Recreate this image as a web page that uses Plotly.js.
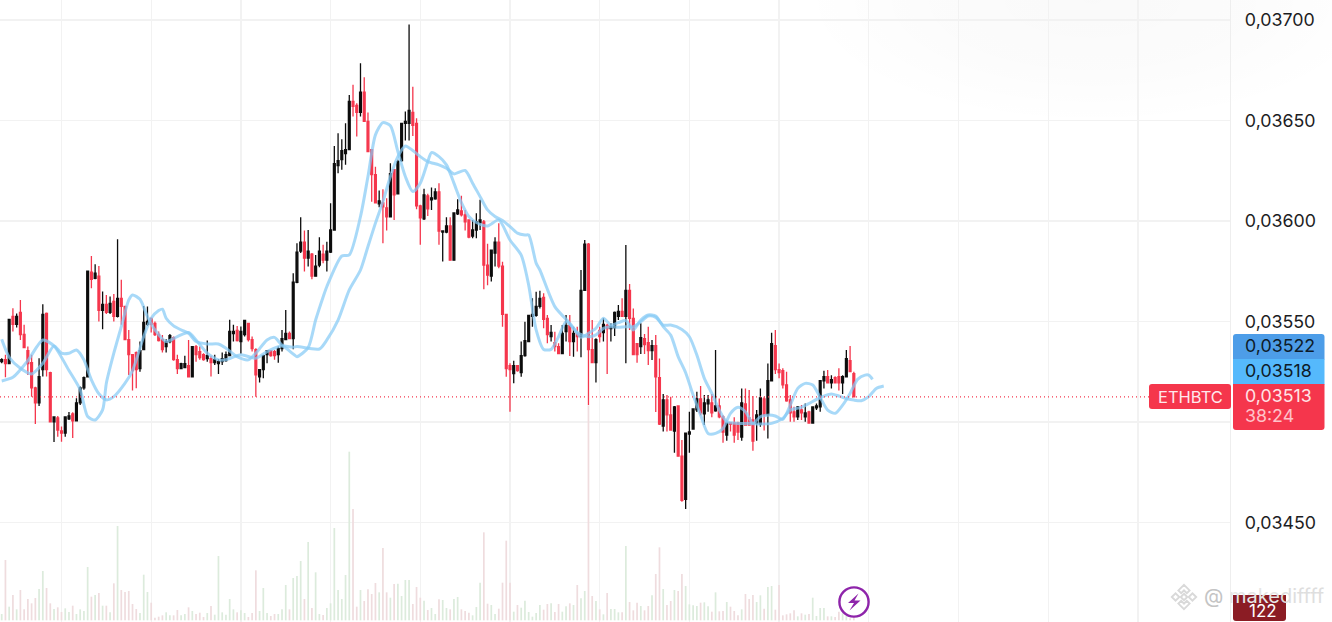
<!DOCTYPE html>
<html><head><meta charset="utf-8">
<script src="https://cdn.plot.ly/plotly-3.0.1.min.js"></script>
<style>html,body{margin:0;padding:0;background:#fff;overflow:hidden}#c{width:1332px;height:622px}</style>
</head><body><div id="c"></div>
<script>
// Prices in units of 0.00001 BTC
const open=[3530,3531,3529,3552.5,3548.5,3554.5,3543.5,3535.5,3529.5,3517,
3509.5,3526,3554,3524.5,3500,3502,3495.5,3494.5,3501.5,3504,
3500.5,3509.5,3517,3522.5,3574.5,3571.5,3572.5,3555.5,3558.5,3554.5,
3560,3552.5,3561.5,3557.5,3541,3533.5,3534.5,3526.5,3536,3548.5,
3551.5,3549,3543.5,3541,3537.5,3540,3542,3531,3526.5,3527,
3528,3522.5,3537.5,3535,3533.5,3531.5,3531.5,3529.5,3529,3530,
3530.5,3533,3544,3545.5,3540,3543.5,3549,3541,3536,3522.5,
3526,3533.5,3535.5,3535,3533.5,3536.5,3541,3544,3541.5,3569.5,
3585,3589.5,3581.5,3583.5,3572.5,3578,3583.5,3580.5,3584.5,3595.5,
3627.5,3630.5,3633.5,3635.5,3659.5,3657.5,3654,3664,3649.5,3635.5,
3623,3608.5,3609,3606.5,3602,3625.5,3613.5,3630,3648.5,3648.5,
3654,3648.5,3607.5,3601,3612.5,3610.5,3611,3614.5,3594.5,3594.5,
3597.5,3580.5,3603.5,3605,3603,3600.5,3592.5,3595.5,3599,3599.5,
3578,3572.5,3584,3589.5,3577.5,3553.5,3528,3524,3528,3524.5,
3533,3540,3552.5,3553,3557.5,3562,3551.5,3542.5,3539.5,3537.5,
3534,3545,3548,3540,3544,3542.5,3565.5,3588.5,3536,3529.5,
3545.5,3544.5,3548,3546.5,3547,3552.5,3555,3552.5,3565.5,3551.5,
3539,3537.5,3541.5,3539.5,3535.5,3538,3522,3498,3511,3503.5,
3495.5,3508,3483,3461.5,3494,3496.5,3506,3511.5,3504,3509,
3509.5,3505.5,3508,3502.5,3493.5,3499.5,3499.5,3499.5,3492.5,3509,
3502,3501,3499.5,3499,3511.5,3503.5,3520.5,3538,3526,3525.5,
3518.5,3511,3505,3502.5,3506,3502.5,3505,3499.5,3507,3507.5,
3520.5,3522.5,3519.5,3522,3522.5,3519.5,3522.5,3530.5,3524];
const close=[3531,3529,3551,3548.5,3552.5,3543.5,3537,3529,3517,3509.5,
3522.5,3553.5,3526,3500,3502.5,3496,3494.5,3502.5,3503,3500.5,
3509.5,3517,3522,3575,3571,3574,3555.5,3558.5,3554.5,3559,
3552.5,3561.5,3557.5,3541,3533.5,3525.5,3526,3535.5,3549.5,3550,
3548.5,3543.5,3540.5,3536,3540,3543,3531,3526.5,3529,3529,
3522.5,3537.5,3533.5,3532,3531,3533,3529.5,3531,3530,3531.5,
3533.5,3545,3545,3540.5,3545,3550.5,3541,3536.5,3523.5,3526,
3533,3535.5,3533,3533,3536.5,3541.5,3544,3541.5,3569.5,3584.5,
3589.5,3581.5,3585,3572.5,3577.5,3585,3580.5,3585,3595.5,3628.5,
3630,3635,3635.5,3659.5,3657,3654,3664,3649.5,3634.5,3623,
3609,3610,3607,3602,3623.5,3613,3629.5,3648.5,3649.5,3655,
3647.5,3607.5,3601.5,3613,3606,3611.5,3614.5,3595,3595,3597.5,
3580.5,3604,3605.5,3603,3599.5,3592,3595.5,3599.5,3600.5,3578,
3573,3585.5,3589.5,3577.5,3553.5,3526.5,3526,3528,3525.5,3533,
3540.5,3553,3553.5,3557.5,3561.5,3551,3543.5,3544.5,3537.5,3534,
3544,3548,3540,3544,3542.5,3565.5,3588.5,3536,3529.5,3541,
3542.5,3548.5,3546.5,3547.5,3554.5,3555,3552.5,3565.5,3551.5,3533.5,
3533.5,3542,3538.5,3535.5,3538,3522.5,3499,3511,3503.5,3496,
3507.5,3483,3461,3494.5,3495,3506.5,3511.5,3504.5,3509.5,3511,
3504.5,3508,3502.5,3495,3499.5,3499,3493.5,3495,3509.5,3498.5,
3498.5,3490.5,3503.5,3512,3503.5,3520.5,3539,3526,3524.5,3518.5,
3510.5,3504.5,3502.5,3507.5,3504.5,3504.5,3499.5,3507.5,3508,3520.5,
3522.5,3519.5,3521,3519.5,3519.5,3522.5,3531.5,3525,3512.5];
const high=[3531.7,3533.4,3551,3556.6,3554,3560.7,3548.3,3537.5,3533.4,3517.5,
3531.7,3558.5,3554.4,3525,3502.7,3503,3497.7,3502.7,3505,3504.8,
3511.8,3517.6,3522.6,3575,3582.6,3578.5,3577.6,3564.9,3563.2,3562.4,
3563.7,3590.9,3570.7,3557.7,3545.8,3533.5,3535,3540,3557.7,3557.4,
3552,3550,3545,3543.3,3541.1,3543.8,3542.5,3533.4,3529.5,3532.9,
3540.8,3537.5,3538.3,3537.5,3534.2,3540.5,3532.9,3533.4,3531.2,3534.5,
3535,3550.8,3548.3,3547.8,3547.5,3550.8,3549.4,3542.5,3536.7,3526.2,
3533.4,3535.8,3535.8,3535.8,3537.5,3545.8,3555.7,3545,3574,3588.9,
3601.8,3595.2,3595.5,3584,3583,3591.9,3588.1,3589.7,3608.8,3637.3,
3643.6,3640.6,3648.6,3662.7,3667.7,3658.6,3678.4,3671.5,3653.9,3635.7,
3627,3615.1,3615.8,3611.3,3628.7,3625.5,3630.4,3648.6,3654.4,3697.7,
3666.8,3651.1,3608,3616,3613.5,3616.6,3616.3,3618.8,3595.2,3601.8,
3601.8,3604,3610.8,3612.5,3605.5,3600.8,3600.5,3603.8,3610.5,3600.5,
3588.6,3585.5,3591.9,3598.9,3579.7,3553.5,3529.2,3530.5,3528.4,3540,
3549.9,3553.2,3561.5,3564.8,3565.3,3564,3553.2,3548.2,3544.9,3539.1,
3548.2,3553.2,3553.2,3547.4,3547.4,3575.6,3590.5,3589,3550.7,3541.6,
3547.4,3551.6,3548.8,3549.1,3554.9,3558.2,3561.5,3588,3568.6,3556.5,
3539.1,3549.1,3543.8,3547.4,3540.8,3543.3,3531.6,3513.9,3513.4,3512.6,
3507.9,3508,3491,3494.7,3505.1,3506.8,3515,3517.9,3513.4,3513.4,
3513.9,3535.8,3511.7,3503.4,3500.1,3499.5,3502.3,3500.1,3516.7,3516.7,
3515.9,3512.9,3505.9,3516.7,3512.6,3529.1,3544.4,3545.7,3529.1,3526.7,
3525,3513.4,3507.6,3507.9,3508.4,3509.2,3505.6,3507.6,3509.2,3520.9,
3525.5,3525.8,3523.3,3522.8,3526.7,3523.3,3535.8,3537.8,3525];
const low=[3529.2,3522.2,3528.9,3545,3547,3540.8,3536.7,3523.4,3512.6,3499,
3508,3522.6,3522.6,3499.7,3490,3492.7,3490.2,3492.7,3501,3492,
3500.2,3508.5,3516,3522.3,3566.5,3571,3550,3546.1,3553.7,3553.7,
3550,3552,3548.3,3541,3523.4,3515.6,3516.8,3525,3535.8,3547.8,
3544.5,3542.8,3540,3534.5,3534.5,3539.2,3530.5,3523.9,3526.2,3526.7,
3522.3,3522.3,3530,3530.9,3530.5,3530,3522.6,3528.4,3523.9,3528.4,
3530,3532.9,3540,3540,3533.9,3542.5,3540,3535,3512.6,3519.6,
3521.7,3529.2,3532.5,3530.9,3529.5,3535,3540.8,3541.1,3536.2,3569,
3584,3574.8,3577.3,3571,3572.3,3577,3579,3574.8,3584,3595.2,
3623.7,3625.4,3627.9,3635.5,3651.9,3642,3651.9,3649.4,3634.5,3609.6,
3608.8,3606.8,3588.9,3595.2,3602,3600.5,3613.5,3629.5,3640,3640,
3642.3,3605.8,3588.1,3600.5,3602.5,3605.5,3610.5,3588.1,3579.8,3593.9,
3580.5,3580.5,3603,3602.2,3595.2,3591.4,3591.4,3591.4,3595.5,3566,
3568,3569.9,3577.3,3576.5,3547.4,3522.5,3505.1,3519.2,3525,3522.5,
3532.5,3540,3547.4,3552.4,3556.5,3546.6,3539.1,3540,3535,3533.8,
3533.8,3540,3532.8,3532.5,3535,3532.2,3565.3,3508.5,3529.2,3519.6,
3539.5,3540,3523.9,3540,3542.8,3550.7,3552.4,3529.2,3545.8,3533.3,
3529.5,3533.8,3533.8,3528.4,3530.8,3505,3498.5,3495.2,3495.2,3496,
3484.7,3482.7,3460.3,3456.7,3484.7,3496.3,3505,3503.4,3498.5,3505.1,
3502.3,3505.1,3501.8,3489.7,3490.7,3495.2,3489.7,3491,3490.7,3498.5,
3498.5,3485.7,3490.7,3497.6,3495.7,3491.8,3520.5,3523.8,3521.7,3516.7,
3510.1,3500.1,3500.1,3501,3501,3500.1,3499.3,3499.3,3506,3505.1,
3516.7,3519.2,3516.7,3519.2,3515.6,3513.9,3522.5,3525,3512.2];
const volume=[76,724,164,304,132,364,132,256,204,268,
376,592,388,204,136,156,100,144,100,176,
76,132,112,640,284,304,328,176,176,96,
444,1132,364,340,352,196,136,88,548,340,
212,32,44,60,96,60,60,124,60,76,
156,112,76,92,40,88,172,68,772,96,
68,256,132,96,120,88,40,88,600,112,
388,88,52,76,76,132,424,132,508,532,
712,256,940,148,576,76,64,148,204,1108,
364,256,544,2024,1336,164,364,232,372,316,
448,336,868,336,272,436,440,292,484,484,
196,400,272,236,124,148,76,252,244,148,
132,256,280,132,112,92,60,160,452,1056,
200,184,76,140,452,956,452,104,184,152,
236,100,44,88,184,128,196,204,100,196,
104,168,204,184,424,264,352,2580,292,232,
132,72,328,136,136,96,96,892,220,120,
212,172,120,172,300,556,876,376,184,232,
364,352,556,412,192,180,172,212,216,168,
104,336,108,112,220,164,112,60,132,316,
256,304,220,300,140,400,412,128,424,60,
72,84,120,48,84,68,76,272,52,148,
148,48,48,40,104,84,52,24,122];
// Moving averages: candle index and value, read at sampled candles
const fastIdx=[0,3,7,11,14,18,21,23,25,27,28,30,32,34,35,37,39,41,44,47,50,52,55,58,60,64,68,71,75,78,79,82,84,86,87,91,93,96,98,100,102,104,106,108,110,112,114,115,117,119,121,123,125,127,130,133,136,139,141,143,145,147,149,151,153,155,157,159,161,163,165,167,169,171,173,175,177,179,181,183,185,187,189,191,193,195,197,199,201,203,205,207,209,211,213,215,217,219,221,223,225,227,229,231,232,233];
const fastVal=[3520.4,3522.2,3530.5,3540.8,3537.8,3525.6,3516,3502.7,3501,3506,3519.3,3534.2,3547.4,3560.7,3563.2,3561,3552.4,3545.8,3540,3542.5,3544.5,3540.8,3534.2,3530.9,3530.9,3533.4,3531.7,3535,3537.8,3533.8,3532.5,3537,3550.7,3562.2,3567.4,3582.6,3583.1,3602.2,3622.1,3642.8,3648.9,3647.3,3634.5,3622.1,3614.6,3618.8,3629.5,3634,3632,3627.9,3618.8,3609.1,3602.2,3599.2,3597.5,3600.5,3590.5,3583,3568.1,3545.8,3536.1,3536.1,3542.4,3549.9,3546.6,3542.1,3544.1,3546.6,3551.6,3548.2,3549.4,3550.4,3545.8,3550.7,3553.2,3552.7,3547.4,3543.2,3532.5,3524.5,3513.4,3503.4,3494.3,3494.3,3496.8,3504.3,3507.3,3505.1,3499.3,3502.6,3503.4,3503,3501.3,3508.4,3516.7,3519.2,3518.4,3512.2,3505.9,3504.3,3508.4,3514.2,3521.2,3523.3,3523.3,3521.2];
const slowIdx=[0,2,5,8,11,14,16,18,20,22,24,26,28,30,33,35,38,40,42,43,44,46,48,50,52,55,58,60,63,66,68,71,73,75,78,79,85,87,90,93,96,98,100,102,104,106,108,110,112,114,117,119,121,124,126,128,130,132,134,136,138,140,141,143,144,148,152,154,157,159,161,163,165,167,169,171,173,175,177,179,182,184,186,188,190,192,194,197,200,203,206,209,211,214,216,218,220,222,224,226,228,230,232,234,236];
const slowVal=[3541.1,3532.2,3526.7,3523.9,3529.2,3537.8,3534.2,3534.2,3535.8,3530.9,3520.9,3514,3511,3512.6,3519.3,3525.6,3542.5,3551.6,3555.4,3556.1,3551.6,3547.8,3545.8,3544.1,3540,3538.8,3538.8,3536.7,3532.5,3530.9,3534.2,3540.8,3542.1,3538.3,3537.2,3537.5,3536.3,3540.8,3550.7,3565.7,3575.6,3587.3,3598.9,3609.6,3622.1,3632,3637.3,3635,3632,3629.5,3627.9,3626.2,3623.4,3625.1,3618.8,3612.1,3605.5,3602.2,3600.2,3597.2,3593.9,3593,3593,3579,3575.6,3557.4,3549.1,3544.5,3542.4,3543.3,3546.6,3547.4,3547.1,3547.4,3547.4,3549.9,3552.7,3552,3548.2,3548.2,3546,3542.4,3533.3,3521.7,3514.2,3505.9,3500.1,3499.3,3499.3,3499,3499.3,3501.8,3505.9,3507.3,3509.2,3511.2,3512.9,3513.9,3512.9,3511.7,3510.9,3510.6,3512.6,3516.7,3517.9];
const gridCandles=[16,40,64,88,112,136,160,184,208,232,256,280,304];
const priceTicks=[3450,3500,3550,3600,3650,3700];
const priceTickText=["0,03450","","0,03550","0,03600","0,03650","0,03700"];
const lastPrice=3512.5;
const maLabels=["0,03522","0,03518"];
const lastLabel="0,03513", countdown="38:24", symbol="ETHBTC", volLabel="122", watermark=["@ ","make","diffff"];

const P=v=>v/1e5, idx=open.map((_,i)=>i);
const W=1230,H=622, X=px=>px/W, Y=py=>1-py/H;
function rr(x0,y0,x1,y1,r,fill,rb){ // rounded box in page pixels
  const a=r,b=rb===undefined?r:rb;
  const p=`M${X(x0+a)},${Y(y0)}L${X(x1-a)},${Y(y0)}Q${X(x1)},${Y(y0)} ${X(x1)},${Y(y0+a)}L${X(x1)},${Y(y1-b)}Q${X(x1)},${Y(y1)} ${X(x1-b)},${Y(y1)}L${X(x0+b)},${Y(y1)}Q${X(x0)},${Y(y1)} ${X(x0)},${Y(y1-b)}L${X(x0)},${Y(y0+a)}Q${X(x0)},${Y(y0)} ${X(x0+a)},${Y(y0)}Z`;
  return {type:'path',xref:'paper',yref:'paper',path:p,fillcolor:fill,line:{width:0},layer:'above'};
}
const svg=s=>'data:image/svg+xml;utf8,'+encodeURIComponent(s);
const bolt=svg('<svg xmlns="http://www.w3.org/2000/svg" viewBox="0 0 34 34"><circle cx="17" cy="17" r="14.6" fill="#fff" stroke="#8E24AA" stroke-width="2.4"/><path d="M21.5 8.5 L11 18 L17 18 L12.5 25.5 L23.5 15.5 L17.5 15.5 Z" fill="#8E24AA"/></svg>');
const logo=svg('<svg xmlns="http://www.w3.org/2000/svg" viewBox="0 0 32 32"><g fill="none" stroke="#d9d9d9" stroke-width="2"><path d="M16 3 L22 9 L19 12 L16 9 L13 12 L10 9 Z"/><path d="M16 29 L22 23 L19 20 L16 23 L13 20 L10 23 Z"/><path d="M3 16 L7 12 L11 16 L7 20 Z"/><path d="M29 16 L25 12 L21 16 L25 20 Z"/><path d="M16 12.5 L19.5 16 L16 19.5 L12.5 16 Z"/></g></svg>');
const glow=svg('<svg xmlns="http://www.w3.org/2000/svg" viewBox="0 0 532 120" preserveAspectRatio="none"><defs><radialGradient id="g" cx="0.55" cy="0" r="0.55" gradientTransform="translate(0.55 0) scale(1 1.9) translate(-0.55 0)"><stop offset="0" stop-color="#000" stop-opacity="0.022"/><stop offset="0.55" stop-color="#000" stop-opacity="0.014"/><stop offset="1" stop-color="#000" stop-opacity="0"/></radialGradient></defs><rect width="532" height="120" fill="url(#g)"/></svg>');

const maLine=c=>({color:c,width:3,shape:'spline',smoothing:0.7});
const traces=[
 {type:'bar',x:idx,y:volume,yaxis:'y',width:0.46,hoverinfo:'skip',
  marker:{color:idx.map(i=>close[i]>=open[i]?'#dcebdc':'#efdcde',),line:{width:0}}},
 {type:'candlestick',x:idx,open:open.map(P),high:high.map(P),low:low.map(P),close:close.map(P),yaxis:'y2',
  increasing:{line:{color:'#0c0c0c',width:1.3},fillcolor:'#0c0c0c'},
  decreasing:{line:{color:'#f5364c',width:1.3},fillcolor:'#f5364c'},whiskerwidth:0,hoverinfo:'skip'},
 {type:'scatter',mode:'lines',x:fastIdx,y:fastVal.map(P),yaxis:'y2',line:maLine('rgba(135,202,245,0.72)'),hoverinfo:'skip'},
 {type:'scatter',mode:'lines',x:slowIdx,y:slowVal.map(P),yaxis:'y2',line:maLine('rgba(135,202,245,0.72)'),hoverinfo:'skip'}
];
const font='Inter, "Liberation Sans", sans-serif';
const ann=(text,px,py,size,color,anchor)=>({xref:'paper',yref:'paper',x:X(px),y:Y(py),text,showarrow:false,xanchor:anchor||'left',yanchor:'middle',font:{family:font,size,color},borderpad:0,borderwidth:0});
const layout={
 width:1332,height:622,margin:{l:0,r:102,t:0,b:0,pad:0},paper_bgcolor:'#fff',plot_bgcolor:'rgba(0,0,0,0)',
 showlegend:false,separators:', ',boxgap:0.3,hovermode:false,
 xaxis:{range:[-0.455,328.65],tickmode:'array',tickvals:gridCandles,showticklabels:false,ticks:'',showgrid:true,gridcolor:'#f2f2f2',gridwidth:1.3,zeroline:false,rangeslider:{visible:false},showline:true,linecolor:'#eeeeee',linewidth:1.5},
 yaxis:{range:[-20,7444],visible:false,showgrid:false,zeroline:false},
 yaxis2:{overlaying:'y',side:'right',range:[P(3400.5),P(3709.9)],tickmode:'array',tickvals:priceTicks.map(P),ticktext:priceTickText,
   showgrid:true,gridcolor:'#f2f2f2',gridwidth:1.5,zeroline:false,showline:true,linecolor:'#eeeeee',linewidth:1.3,
   ticks:'outside',ticklen:10,tickcolor:'rgba(0,0,0,0)',tickwidth:1,tickfont:{family:font,size:17.8,color:'#1d1d1f'}},
 images:[
  {source:glow,xref:'paper',yref:'paper',x:X(800),y:Y(0),sizex:532/W,sizey:120/H,sizing:'stretch',xanchor:'left',yanchor:'top',layer:'below'},
  {source:bolt,xref:'paper',yref:'paper',x:X(837),y:Y(585),sizex:34/W,sizey:34/H,sizing:'stretch',xanchor:'left',yanchor:'top',layer:'above'},
  {source:logo,xref:'paper',yref:'paper',x:X(1169),y:Y(582),sizex:30/W,sizey:30/H,sizing:'stretch',xanchor:'left',yanchor:'top',layer:'above'}
 ],
 shapes:[
  {type:'line',xref:'paper',yref:'y2',x0:0,x1:X(1149),y0:P(lastPrice),y1:P(lastPrice),line:{color:'#f5364c',width:1.2,dash:'1px,3px'},layer:'above'},
  rr(1149,384,1231,409,3,'#f5364c'),
  rr(1233,334,1324.5,359.5,3,'#4d9de8',0),
  {type:'rect',xref:'paper',yref:'paper',x0:X(1233),x1:X(1324.5),y0:Y(359),y1:Y(384.5),fillcolor:'#55b9fc',line:{width:0},layer:'above'},
  rr(1233,384,1324.5,430,0.01,'#f5364c',3),
  rr(1233,595,1286,621,0.01,'#8b1c24',3)
 ],
 annotations:[
  ann(maLabels[0],1245,345,17.8,'#0e1b28'),
  ann(maLabels[1],1245,370,17.8,'#0e1b28'),
  ann(symbol,1190,397,16.5,'#ffe9ec','center'),
  ann(lastLabel,1245,395,17.8,'#ffe3e6'),
  ann(countdown,1245,415,17.8,'#ffc2c9'),
  ann(volLabel,1263,611,17,'#ffffff','center'),
  ann(`<span style="color:#c4c4c4">${watermark[0]}</span><span style="color:#e6e6e6">${watermark[1]}</span><span style="color:#dedede">${watermark[2]}</span>`,1204,596,20,'#c4c4c4')
 ]
};
Plotly.newPlot('c',traces,layout,{staticPlot:true,displayModeBar:false});
</script></body></html>
